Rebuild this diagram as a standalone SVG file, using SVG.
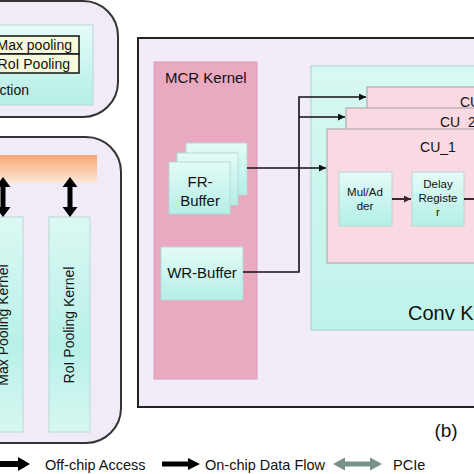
<svg xmlns="http://www.w3.org/2000/svg" width="474" height="474" viewBox="0 0 474 474">
<style>
text{font-family:"Liberation Sans",Arial,sans-serif;fill:#111}
.panel{fill:#f1ebf8;stroke:#333;stroke-width:2}
.cyan{fill:url(#cyanV);stroke:#b8d8d4;stroke-width:1}
.kern{fill:url(#cyanK);stroke:#b8d8d4;stroke-width:1}
.cu{fill:#f9d9e2;stroke:#a9a0a4;stroke-width:1}
.thin{fill:none;stroke:#111;stroke-width:1.6}
.dark{fill:none;stroke:#3a2830;stroke-width:2}
.blk{fill:#000}
</style>
<defs>
<linearGradient id="cyanV" x1="0" y1="0" x2="0" y2="1"><stop offset="0" stop-color="#e4fbf8"/><stop offset="1" stop-color="#b4efe5"/></linearGradient>
<linearGradient id="cyanK" x1="0" y1="0" x2="0" y2="1"><stop offset="0" stop-color="#dcf8f4"/><stop offset="0.6" stop-color="#b8f1e7"/><stop offset="1" stop-color="#d8f7f2"/></linearGradient>
<linearGradient id="conv" x1="0" y1="0" x2="0" y2="1"><stop offset="0" stop-color="#d8f8f3"/><stop offset="1" stop-color="#bff3ea"/></linearGradient>
<linearGradient id="orange" x1="0" y1="0" x2="0" y2="1"><stop offset="0" stop-color="#f8a673"/><stop offset="1" stop-color="#fde8d8"/></linearGradient>
<marker id="ah" markerUnits="userSpaceOnUse" markerWidth="7" markerHeight="7" refX="7" refY="3.5" orient="auto"><path d="M0,0 L7,3.5 L0,7 z" fill="#111"/></marker>
<marker id="ahd" markerUnits="userSpaceOnUse" markerWidth="7" markerHeight="7" refX="7" refY="3.5" orient="auto"><path d="M0,0 L7,3.5 L0,7 z" fill="#3a2830"/></marker>
<polygon id="vdbl" points="0,0 7.5,10 2.5,10 2.5,30 7.5,30 0,40 -7.5,30 -2.5,30 -2.5,10 -7.5,10"/>
</defs>
<rect width="474" height="474" fill="#fff"/>

<g id="top-left-panel">
<rect class="panel" x="-60" y="1" width="178" height="116" rx="35"/>
<rect class="cyan" x="-10" y="25" width="103" height="80"/>
<rect x="-10" y="36" width="89" height="18" fill="#f6fadc" stroke="#111" stroke-width="1.5"/>
<rect x="-10" y="54" width="89" height="19" fill="#f6fadc" stroke="#111" stroke-width="1.5"/>
<text x="72" y="50" font-size="14" text-anchor="end">Max pooling</text>
<text x="70" y="69" font-size="14" text-anchor="end">RoI Pooling</text>
<text x="29" y="95" font-size="14" text-anchor="end">ction</text>
</g>

<g id="bottom-left-panel">
<rect class="panel" x="-60" y="137" width="181" height="306" rx="35"/>
<rect x="-10" y="155" width="107" height="28" fill="url(#orange)"/>
<g id="max-pool-kernel">
<rect class="kern" x="-10" y="217" width="33" height="215"/>
<text transform="translate(8,325) rotate(-90)" font-size="14" text-anchor="middle">Max Pooling Kernel</text>
</g>
<g id="roi-pool-kernel">
<rect class="kern" x="49" y="217" width="41" height="215"/>
<text transform="translate(74,325) rotate(-90)" font-size="14" text-anchor="middle">RoI Pooling Kernel</text>
</g>
</g>

<g id="panel-b">
<rect x="138" y="38" width="350" height="369" fill="#f2ecf9" stroke="#222" stroke-width="2"/>
<text x="446" y="437" font-family="Liberation Serif,serif" font-size="19" text-anchor="middle">(b)</text>
</g>

<g id="mcr-kernel">
<rect x="154" y="62" width="103" height="317" fill="#e9a9c1" stroke="#d8a0b8" stroke-width="1"/>
<text x="165" y="83" font-size="15">MCR Kernel</text>
</g>
<g id="fr-buffer">
<rect class="cyan" x="186" y="143" width="61" height="52"/>
<rect class="cyan" x="177" y="153" width="61" height="52"/>
<rect class="cyan" x="169" y="162" width="61" height="52"/>
<text x="200" y="187" font-size="15" text-anchor="middle">FR-</text>
<text x="200" y="206" font-size="15" text-anchor="middle">Buffer</text>
</g>
<g id="wr-buffer">
<rect class="cyan" x="161" y="247" width="82" height="53"/>
<text x="202" y="278" font-size="15" text-anchor="middle">WR-Buffer</text>
</g>

<g id="conv-kernel">
<rect x="311" y="66" width="180" height="264" fill="url(#conv)" stroke="#a8d0c8" stroke-width="1"/>
<text x="408" y="320" font-size="20">Conv Kernel</text>
</g>
<g id="cu-3">
<rect class="cu" x="367" y="87" width="120" height="60"/>
<text x="460" y="107" font-size="14">CU_3</text>
</g>
<g id="cu-2">
<rect class="cu" x="346" y="108" width="140" height="60"/>
<text x="440" y="127" font-size="14">CU_2</text>
</g>
<g id="cu-1">
<rect class="cu" x="327" y="129" width="160" height="134"/>
<text x="438" y="152" font-size="14" text-anchor="middle">CU_1</text>
</g>
<g id="mul-adder">
<rect class="cyan" x="339" y="172" width="53" height="54"/>
<text x="365" y="196" font-size="11.5" text-anchor="middle">Mul/Ad</text>
<text x="365" y="210" font-size="11.5" text-anchor="middle">der</text>
</g>
<g id="delay-register">
<rect class="cyan" x="412" y="172" width="52" height="54"/>
<text x="438" y="188" font-size="11.5" text-anchor="middle">Delay</text>
<text x="438" y="202" font-size="11.5" text-anchor="middle">Registe</text>
<text x="438" y="216" font-size="11.5" text-anchor="middle">r</text>
</g>

<g id="connectors">
<path class="thin" d="M243,272 H299 V97 H366" marker-end="url(#ah)"/>
<path class="thin" d="M299,117 H345" marker-end="url(#ah)"/>
<path class="thin" d="M247,168 H326" marker-end="url(#ah)"/>
<path class="dark" d="M392,199 H411" marker-end="url(#ahd)"/>
<path class="dark" d="M464,199 H480"/>
<use href="#vdbl" x="3" y="177" class="blk"/>
<use href="#vdbl" x="70" y="177" class="blk"/>
</g>

<g id="legend">
<polygon class="blk" points="-5,461 18,461 18,457 30,464 18,471 18,467 -5,467"/>
<text x="45" y="470" font-size="14.5">Off-chip Access</text>
<polygon class="blk" points="162,461.5 188,461.5 188,458 200,464 188,470 188,466.5 162,466.5"/>
<text x="205" y="470" font-size="14.5">On-chip Data Flow</text>
<polygon fill="#7a908a" points="333,464 345,457.5 345,461.5 370,461.5 370,457.5 382,464 370,470.5 370,466.5 345,466.5 345,470.5"/>
<text x="393" y="470" font-size="14.5">PCIe</text>
</g>
</svg>
